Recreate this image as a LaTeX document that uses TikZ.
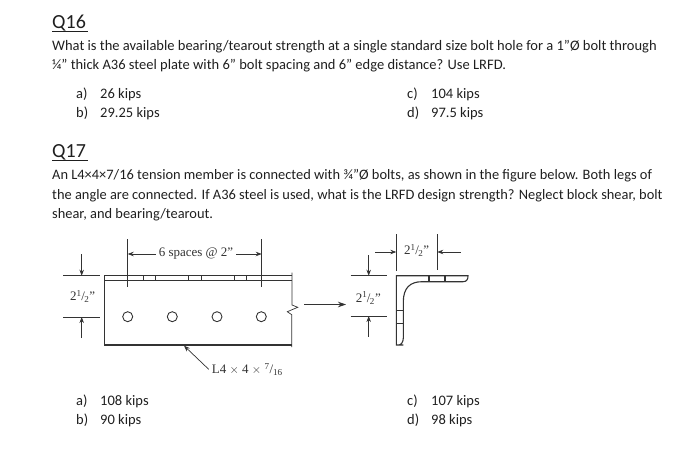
\documentclass[tikz,border=0pt]{standalone}
\usepackage{fontspec}
\usetikzlibrary{arrows.meta}
\setmainfont{Carlito}
\newfontfamily\figfont{Liberation Serif}
\newcommand{\halfdim}{2\textsuperscript{1}\kern-0.5pt/\kern-0.5pt\textsubscript{2}”}
\definecolor{figgray}{HTML}{333333}
\tikzset{
  qtitle/.style={anchor=base west,inner sep=0pt,font=\fontsize{20}{22}\selectfont,text=black!88},
  qtext/.style={anchor=base west,inner sep=0pt,font=\fontsize{14.5}{16}\selectfont,text=black!88},
  qtextb/.style={qtext,font=\fontsize{14.42}{16}\selectfont},
  figtext/.style={inner sep=0pt,font=\figfont\fontsize{13}{14}\selectfont,text=figgray},
  dimline/.style={figgray,line width=0.7pt},
  dimarrow/.style={figgray,line width=0.7pt,-{Stealth[length=6pt,width=4.5pt]}},
  steel/.style={figgray,line width=1.1pt},
  thinsteel/.style={figgray,line width=0.7pt},
}
\begin{document}
\begin{tikzpicture}[x=1pt,y=-1pt]
\useasboundingbox(0,0)rectangle(700,473);
% question 16
\node[qtitle](qa)at(52,28.5){Q16};
\draw[black!88,line width=0.9pt](qa.base west)++(0,3)--++(36,0);
\node[qtext](qaone)at(52,51){What is the available bearing/tearout strength at a single standard size bolt hole for a 1”Ø bolt through};
\node[qtext](qatwo)at(52,69.5){¼” thick A36 steel plate with 6” bolt spacing and 6” edge distance? Use LRFD.};
\node[qtext](qaa)at(76,98.5){a)};
\node[qtext](qaaval)at(100,98.5){26 kips};
\node[qtext](qab)at(76,117.5){b)};
\node[qtext](qabval)at(100,117.5){29.25 kips};
\node[qtext](qac)at(407,98.5){c)};
\node[qtext](qacval)at(431,98.5){104 kips};
\node[qtext](qad)at(407,117.5){d)};
\node[qtext](qadval)at(431,117.5){97.5 kips};
% question 17
\node[qtitle](qb)at(52,157.5){Q17};
\draw[black!88,line width=0.9pt](qb.base west)++(0,3)--++(36,0);
\node[qtextb](qbone)at(52,179.5){An L4×4×7/16 tension member is connected with ¾”Ø bolts, as shown in the figure below. Both legs of};
\node[qtextb](qbtwo)at(52,199){the angle are connected. If A36 steel is used, what is the LRFD design strength? Neglect block shear, bolt};
\node[qtextb](qbthree)at(52,218.5){shear, and bearing/tearout.};
\node[qtext](qba)at(76,405){a)};
\node[qtext](qbaval)at(100,405){108 kips};
\node[qtext](qbb)at(76,424){b)};
\node[qtext](qbbval)at(100,424){90 kips};
\node[qtext](qbc)at(407,405){c)};
\node[qtext](qbcval)at(431,405){107 kips};
\node[qtext](qbd)at(407,424){d)};
\node[qtext](qbdval)at(431,424){98 kips};
% plate
\draw[steel](292,275.7)--(104.7,275.7)--(104.7,345)--(291.7,345);
\draw[thinsteel](104.7,280.7)--(292,280.7);
\draw[thinsteel](292,272.7)--(292,305)--(297.7,307.3)--(287.3,311.7)--(291.7,314.7)--(291.7,347);
\foreach \x in {143.3,155.3,188.7,201.3,234.3,246.7}{\draw[thinsteel](\x,275.7)--++(0,5);}
\foreach \x in {127.7,172.3,217,261.3}{\draw[thinsteel,line width=0.9pt](\x,316.7)circle(5);}
% plate dimensions
\node[figtext](spaces)at(196,253.3){6 spaces @ 2”};
\draw[dimline](127.7,239.3)--(127.7,287.3);
\draw[dimline](261.7,239.3)--(261.7,287.3);
\coordinate(spl)at(127.7,254);
\coordinate(spr)at(261.7,254);
\draw[dimarrow](spaces.west)++(-3,0.7)--(spl);
\draw[dimarrow](spaces.east)++(3,0.7)--(spr);
\node[figtext](platedim)at(82.7,296.7){\halfdim};
\draw[dimline](63.3,275.7)--(100,275.7);
\draw[dimline](63.3,317)--(100,317);
\draw[dimarrow](81.7,254.3)--(81.7,275.7);
\draw[dimarrow](81.7,338)--(81.7,317);
% leader
\node[figtext,anchor=west](angle)at(211.7,369.3){L4 $\times$ 4 $\times$ \textsuperscript{7}/\textsubscript{16}};
\coordinate(tip)at(184,345.7);
\draw[dimarrow](angle.west)++(-3,0)--(tip);
% arrow between views
\coordinate(ga)at(304,304.5);
\coordinate(gb)at(346,304.5);
\draw[dimarrow,line width=0.8pt,-{Stealth[length=8pt,width=5.5pt]}](ga)--(gb);
% angle section
\draw[steel](403.3,345)--(396.3,345)--(396.3,275.7)--(468,275.7)
  ..controls(468,279)and(467,281.7)..(463,281.7)--(422,281.7)
  ..controls(410,281.7)and(403.3,288)..(403.3,302)--(403.3,338)
  ..controls(403.3,342)and(401,345)..(399,345)--(396.3,345);
\foreach \x in {429,445}{\draw[steel](\x,275.7)--++(0,6);}
\foreach \y in {310.7,323.3}{\draw[steel](396.3,\y)--++(7,0);}
% section dimensions
\node[figtext](sectop)at(416.7,250.7){\halfdim};
\draw[dimline](396.3,234)--(396.3,270.5);
\draw[dimline](437.3,234)--(437.3,270);
\draw[dimarrow](375.3,252)--(396.3,252);
\draw[dimarrow](460.7,252)--(437.3,252);
\node[figtext](secdim)at(368.3,298){\halfdim};
\draw[dimline](350.7,275.7)--(386.7,275.7);
\draw[dimline](350.7,316)--(386.7,316);
\draw[dimarrow](368.7,255)--(368.7,275.7);
\draw[dimarrow](368.7,336.7)--(368.7,316);
\end{tikzpicture}
\end{document}
